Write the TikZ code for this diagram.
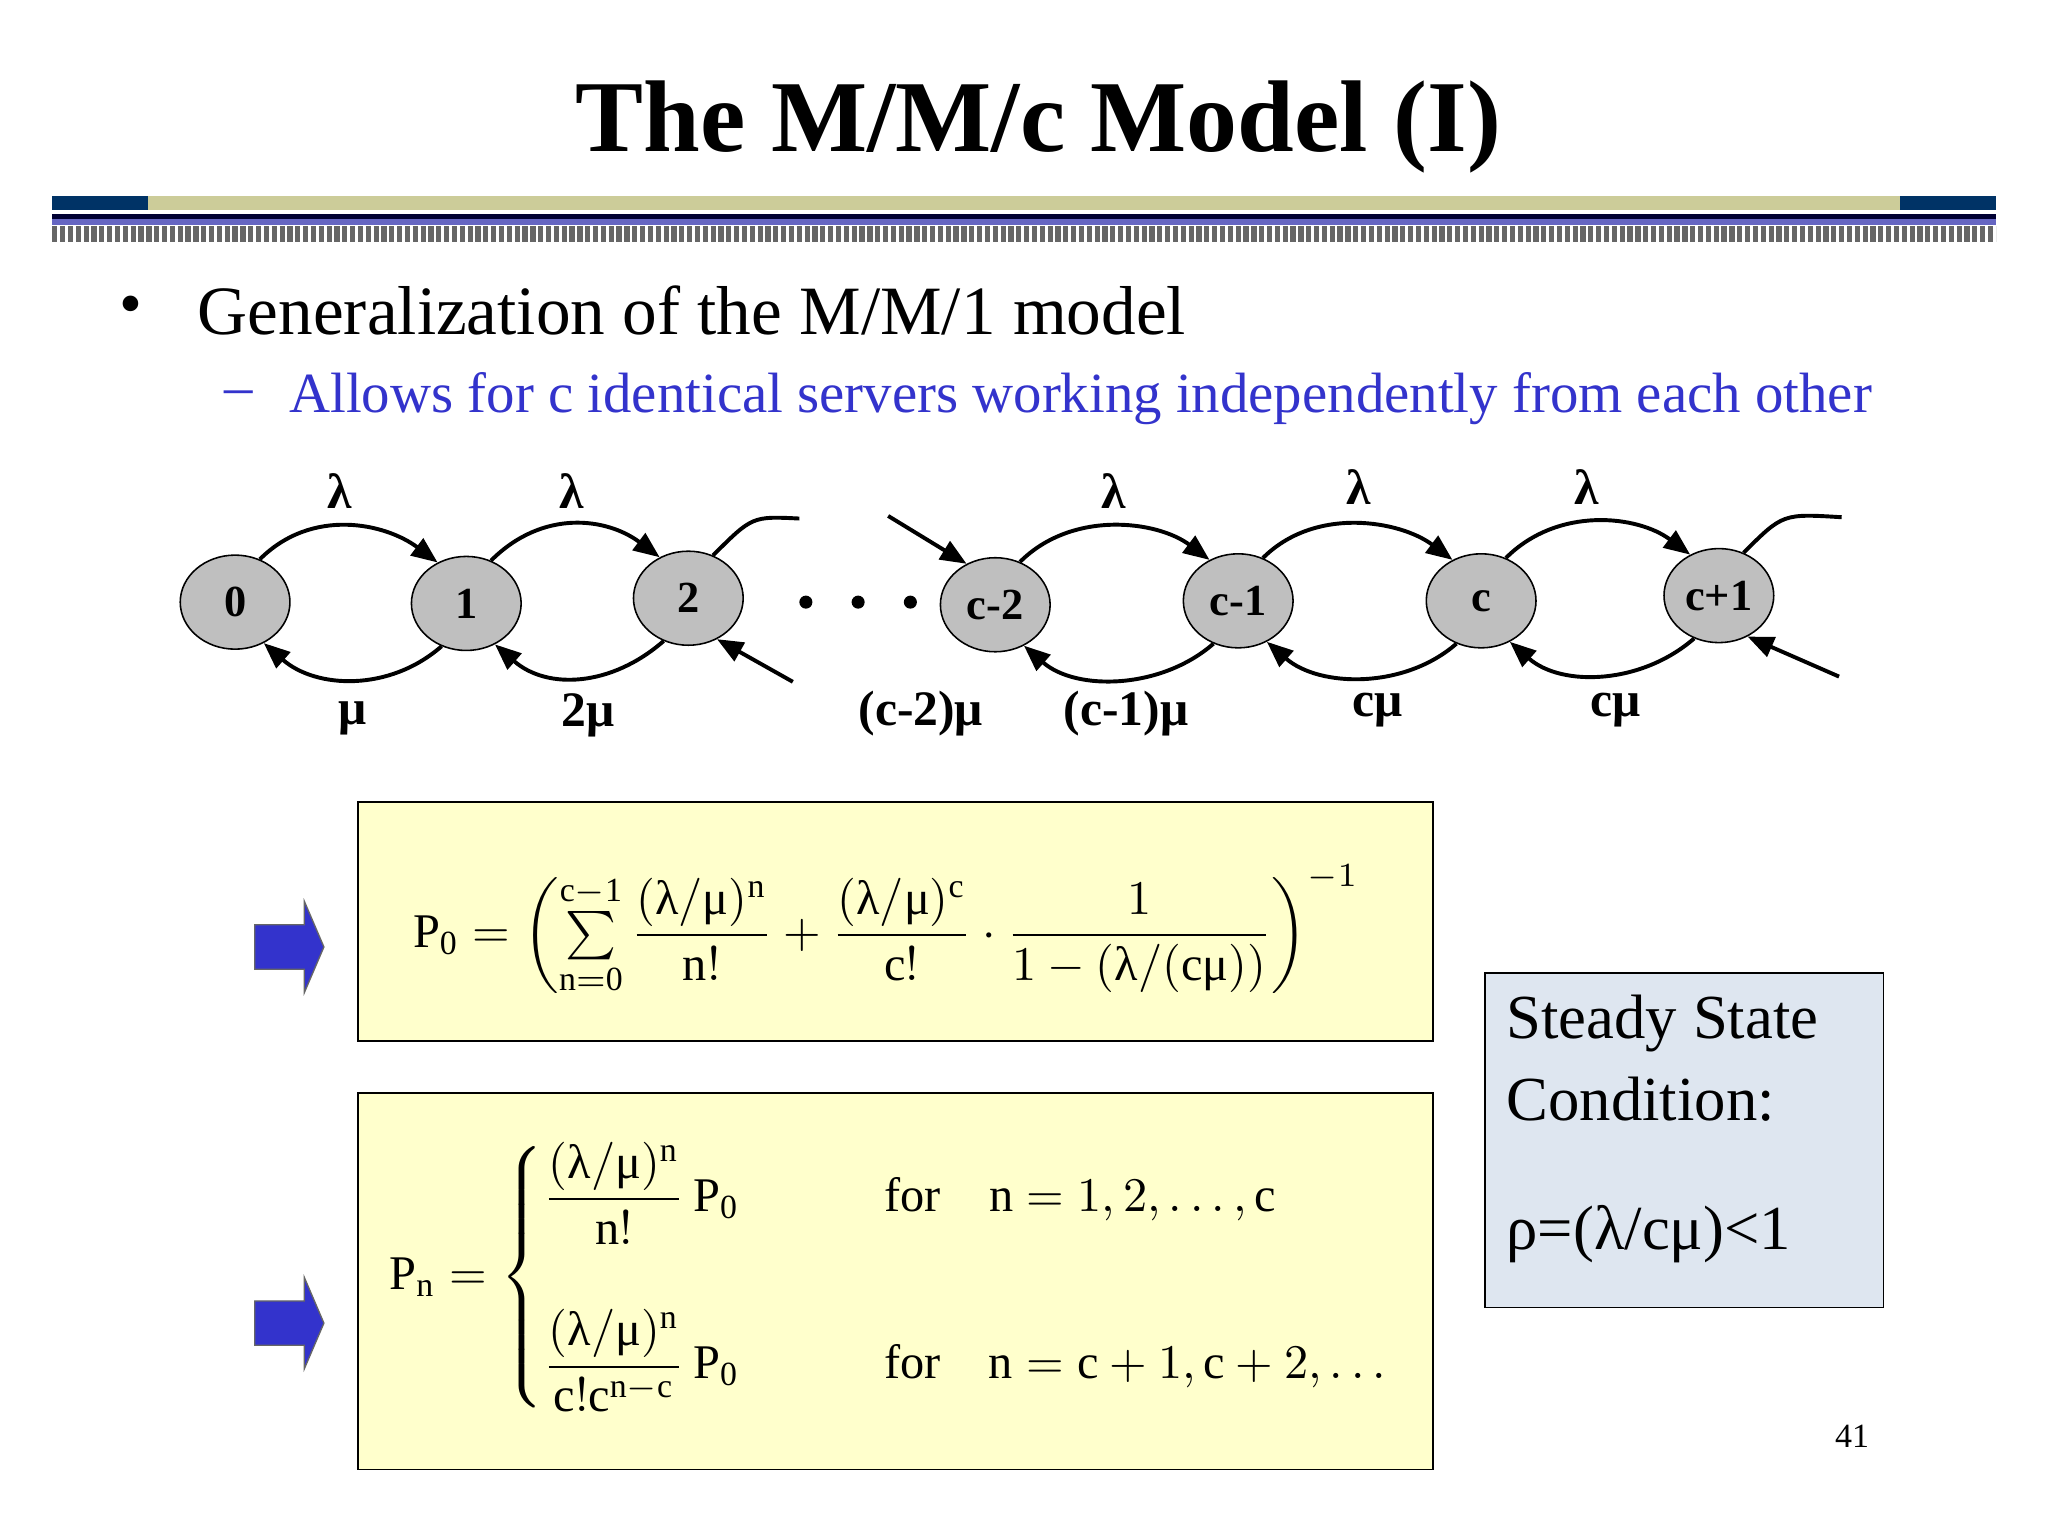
\documentclass[tikz,border=0pt]{standalone}
\usepackage{fontspec}
\usepackage{amsmath}
\setmainfont{Liberation Serif}
\usetikzlibrary{arrows.meta,shapes.geometric}
\definecolor{navy}{RGB}{0,51,102}
\definecolor{khaki}{RGB}{204,204,153}
\definecolor{txtblue}{RGB}{51,51,204}
\definecolor{boxyel}{RGB}{255,255,204}
\definecolor{boxblu}{RGB}{222,230,240}
\definecolor{arrblu}{RGB}{51,51,204}
\newcommand{\lam}{\text{λ}}
\newcommand{\mmu}{\text{μ}}
\tikzset{
  st/.style={ellipse,draw,fill=black!25,line width=1.2pt,minimum width=84pt,minimum height=72pt,inner sep=0pt,font=\fontsize{34}{34}\selectfont\bfseries},
  tr/.style={line width=3pt,-{Triangle[length=20pt,width=16pt]}},
  ln/.style={line width=3pt},
  lab/.style={font=\fontsize{38}{38}\selectfont\bfseries},
  fbox/.style={draw,line width=1.2pt,fill=boxyel},
  barrow/.style={draw=black!60,fill=arrblu,line width=1pt},
}
\begin{document}
\begin{tikzpicture}[x=1pt,y=-1pt]
\useasboundingbox (0,0) rectangle (1568,1176);
\fill[white] (0,0) rectangle (1568,1176);
\node[font=\fontsize{78}{78}\selectfont\bfseries] (title) at (795,97) {The M/M/c Model (I)};
\fill[navy] (40,150) rectangle (113,161);
\fill[khaki] (113,150) rectangle (1455,161);
\fill[navy] (1455,150) rectangle (1528,161);
\fill[black!80!blue] (40,164) rectangle (1528,168);
\fill[black!40!blue!60!white] (40,168) rectangle (1528,172);
\draw[black!60,line width=12pt,dash pattern=on 4pt off 2pt] (40,179) -- (1528,179);
\node[anchor=west,font=\fontsize{50}{50}\selectfont] (b1) at (88,238) {•};
\node[anchor=west,font=\fontsize{53}{53}\selectfont] (t1) at (148,238) {Generalization of the M/M/1 model};
\node[anchor=west,font=\fontsize{43.5}{43.5}\selectfont,text=txtblue] (d1) at (168,305) {–};
\node[anchor=west,font=\fontsize{43.5}{43.5}\selectfont,text=txtblue] (t2) at (218,305) {Allows for c identical servers working independently from each other};
% states
\node[st] (s0) at (180,461) {0};
\node[st] (s1) at (357,462) {1};
\node[st] (s2) at (527,458) {2};
\node[st] (sc2) at (762,463) {c-2};
\node[st] (sc1) at (948,460) {c-1};
\node[st] (sc) at (1134,460) {c};
\node[st] (scp) at (1316,456) {c+1};
\foreach \x/\n in {617/da,657/db,697/dc} \fill (\x,461) circle (5pt) coordinate (\n);
% arcs
\foreach \a/\b in {s0/s1,s1/s2,sc2/sc1,sc1/sc,sc/scp} {
  \draw[tr] (\a.60) .. controls +(40,-40) and +(-40,-30) .. (\b.125);
  \draw[tr] (\b.-120) .. controls +(-40,35) and +(40,35) .. (\a.-55);
}
\coordinate (e1) at (612,397); \coordinate (e2) at (607,522);
\coordinate (e3) at (680,395); \coordinate (e4) at (1410,396); \coordinate (e5) at (1408,518);
\draw[ln] (s2.60) .. controls +(30,-30) .. (e1);
\draw[tr] (e2) -- (s2.-55);
\draw[tr] (e3) -- (sc2.125);
\draw[ln] (scp.60) .. controls +(30,-30) .. (e4);
\draw[tr] (e5) -- (scp.-55);
% labels
\foreach \x/\y/\n in {260/376/l1,438/376/l2,853/376/l3,1040/373/l4,1215/373/l5}
  \node[lab] (\n) at (\x,\y) {λ};
\node[lab] (m1) at (270,550) {μ};
\node[lab] (m2) at (450,548) {2μ};
\node[lab] (m3) at (705,546) {(c-2)μ};
\node[lab] (m4) at (862,546) {(c-1)μ};
\node[lab] (m5) at (1055,544) {cμ};
\node[lab] (m6) at (1237,544) {cμ};
% formula boxes
\draw[fbox] (274,614) rectangle (1097,797);
\draw[fbox] (274,837) rectangle (1097,1125);
\foreach \y in {725,1013}
  \draw[barrow] (195,\y-17) -- (233,\y-17) -- (233,\y-35) -- (248,\y) -- (233,\y+35) -- (233,\y+17) -- (195,\y+17) -- cycle;
\node[anchor=west,inner sep=0pt] (f1) at (316,712) {\scalebox{3.7}{$\mathrm{P_0}=\left(\sum\limits_{\mathrm{n=0}}^{\mathrm{c-1}}\dfrac{(\lam/\mmu)^{\mathrm{n}}}{\mathrm{n!}}+\dfrac{(\lam/\mmu)^{\mathrm{c}}}{\mathrm{c!}}\cdot\dfrac{1}{1-(\lam/(\mathrm{c}\mmu))}\right)^{-1}$}};
\node[anchor=west,inner sep=0pt] (f2) at (298,978) {\scalebox{3.7}{$\mathrm{P_n}=\begin{cases}\dfrac{(\lam/\mmu)^{\mathrm{n}}}{\mathrm{n!}}\,\mathrm{P_0} & \qquad\mathrm{for}\quad \mathrm{n}=1,2,\ldots,\mathrm{c}\\[16pt]
\dfrac{(\lam/\mmu)^{\mathrm{n}}}{\mathrm{c!c^{n-c}}}\,\mathrm{P_0} & \qquad\mathrm{for}\quad \mathrm{n}=\mathrm{c}+1,\mathrm{c}+2,\ldots\end{cases}$}};
\draw[line width=1.2pt,fill=boxblu] (1137,745) rectangle (1442,1001);
\node[anchor=north west,align=left,font=\fontsize{48}{63}\selectfont] (ss) at (1150,758) {Steady State\\Condition:};
\node[anchor=west,font=\fontsize{48}{48}\selectfont] (rho) at (1150,945) {ρ=(λ/cμ)<1};
\node[font=\fontsize{26}{26}\selectfont] (pg) at (1418,1100) {41};
\end{tikzpicture}
\end{document}
